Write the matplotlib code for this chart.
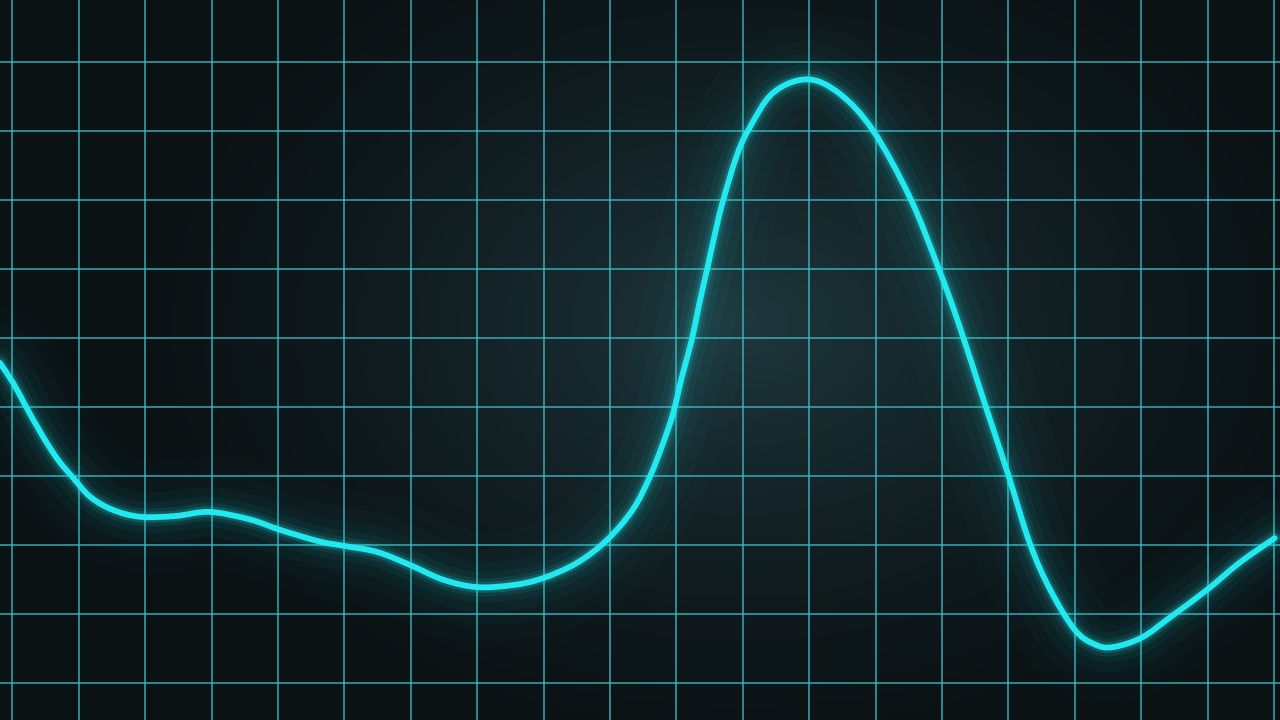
import numpy as np
import matplotlib
matplotlib.use("Agg")
import matplotlib.pyplot as plt
from matplotlib.path import Path
from matplotlib.patches import PathPatch

# =================
# DANE (jednostki siatki)
# =================
x_vals = [-0.19, 0.01, 0.19, 0.46, 0.69, 0.90, 1.17, 1.51, 1.92, 2.45,
          2.97, 3.58, 4.03, 4.63, 4.98, 5.49, 5.99, 6.48, 6.99, 7.54,
          7.99, 8.50, 8.95, 9.34, 9.60, 9.80, 9.95, 10.08, 10.23, 10.34,
          10.46, 10.57, 10.69, 10.90, 11.08, 11.45, 11.97, 12.46, 12.96, 13.52,
          13.94, 14.24, 14.65, 15.00, 15.32, 15.63, 16.00, 16.30, 16.57, 17.01,
          17.46, 17.99, 18.49, 19.01]
y_vals = [4.64, 4.35, 4.03, 3.57, 3.23, 2.99, 2.70, 2.51, 2.41, 2.42,
          2.48, 2.37, 2.22, 2.05, 1.99, 1.90, 1.71, 1.50, 1.39, 1.42,
          1.52, 1.74, 2.07, 2.51, 2.99, 3.48, 3.91, 4.43, 4.97, 5.48,
          5.99, 6.47, 6.95, 7.62, 8.01, 8.55, 8.75, 8.54, 8.01, 7.03,
          6.03, 5.24, 4.03, 3.01, 2.03, 1.35, 0.77, 0.56, 0.52, 0.66,
          0.97, 1.35, 1.75, 2.10]

x_grid = list(range(0, 20))
y_grid = list(range(0, 10))

# =================
# STYL
# =================
bg_dark = np.array([11, 18, 20]) / 255
bg_light = np.array([30, 55, 61]) / 255
line_color = "#22e8f0"
grid_color = "#3fbcc8"

xlim = (-0.188, 19.09)
ylim = (-0.536, 9.90)


def gladka_sciezka(xs, ys):
    # krzywa Catmull-Rom jako krzywe Beziera przez punkty
    P = np.column_stack([xs, ys])
    n = len(P)
    verts = [P[0]]
    codes = [Path.MOVETO]
    for i in range(n - 1):
        p0 = P[max(i - 1, 0)]
        p1 = P[i]
        p2 = P[i + 1]
        p3 = P[min(i + 2, n - 1)]
        c1 = p1 + (p2 - p0) / 6
        c2 = p2 - (p3 - p1) / 6
        verts += [c1, c2, p2]
        codes += [Path.CURVE4] * 3
    return Path(verts, codes)


fig = plt.figure(figsize=(12.8, 7.2), dpi=100)
ax = fig.add_axes([0, 0, 1, 1])
ax.set_xlim(*xlim)
ax.set_ylim(*ylim)
ax.axis("off")

# tlo z winietą
gx, gy = np.meshgrid(np.linspace(xlim[0], xlim[1], 400),
                     np.linspace(ylim[0], ylim[1], 240))
d = np.sqrt(((gx - 11.0) / 9.5) ** 2 + ((gy - 5.2) / 6.5) ** 2)
w = np.clip(1 - d, 0, 1) ** 1.5
img = bg_dark[None, None, :] + (bg_light - bg_dark)[None, None, :] * w[..., None]
ax.imshow(img, extent=(*xlim, *ylim), origin="lower", aspect="auto", zorder=0)

# siatka
for xv in x_grid:
    ax.axvline(xv, color=grid_color, lw=1.3, alpha=0.75, zorder=1)
for yv in y_grid:
    ax.axhline(yv, color=grid_color, lw=1.3, alpha=0.75, zorder=1)

sciezka = gladka_sciezka(x_vals, y_vals)

# poswiata
for lw, a in [(80, 0.015), (55, 0.025), (36, 0.035), (22, 0.05), (13, 0.09), (8, 0.18)]:
    ax.add_patch(PathPatch(sciezka, fill=False, edgecolor=line_color, lw=lw,
                           alpha=a, capstyle="round", joinstyle="round", zorder=2))

ax.add_patch(PathPatch(sciezka, fill=False, edgecolor=line_color, lw=4.2,
                       capstyle="round", joinstyle="round", zorder=3))

fig.savefig("out.png", dpi=100)
